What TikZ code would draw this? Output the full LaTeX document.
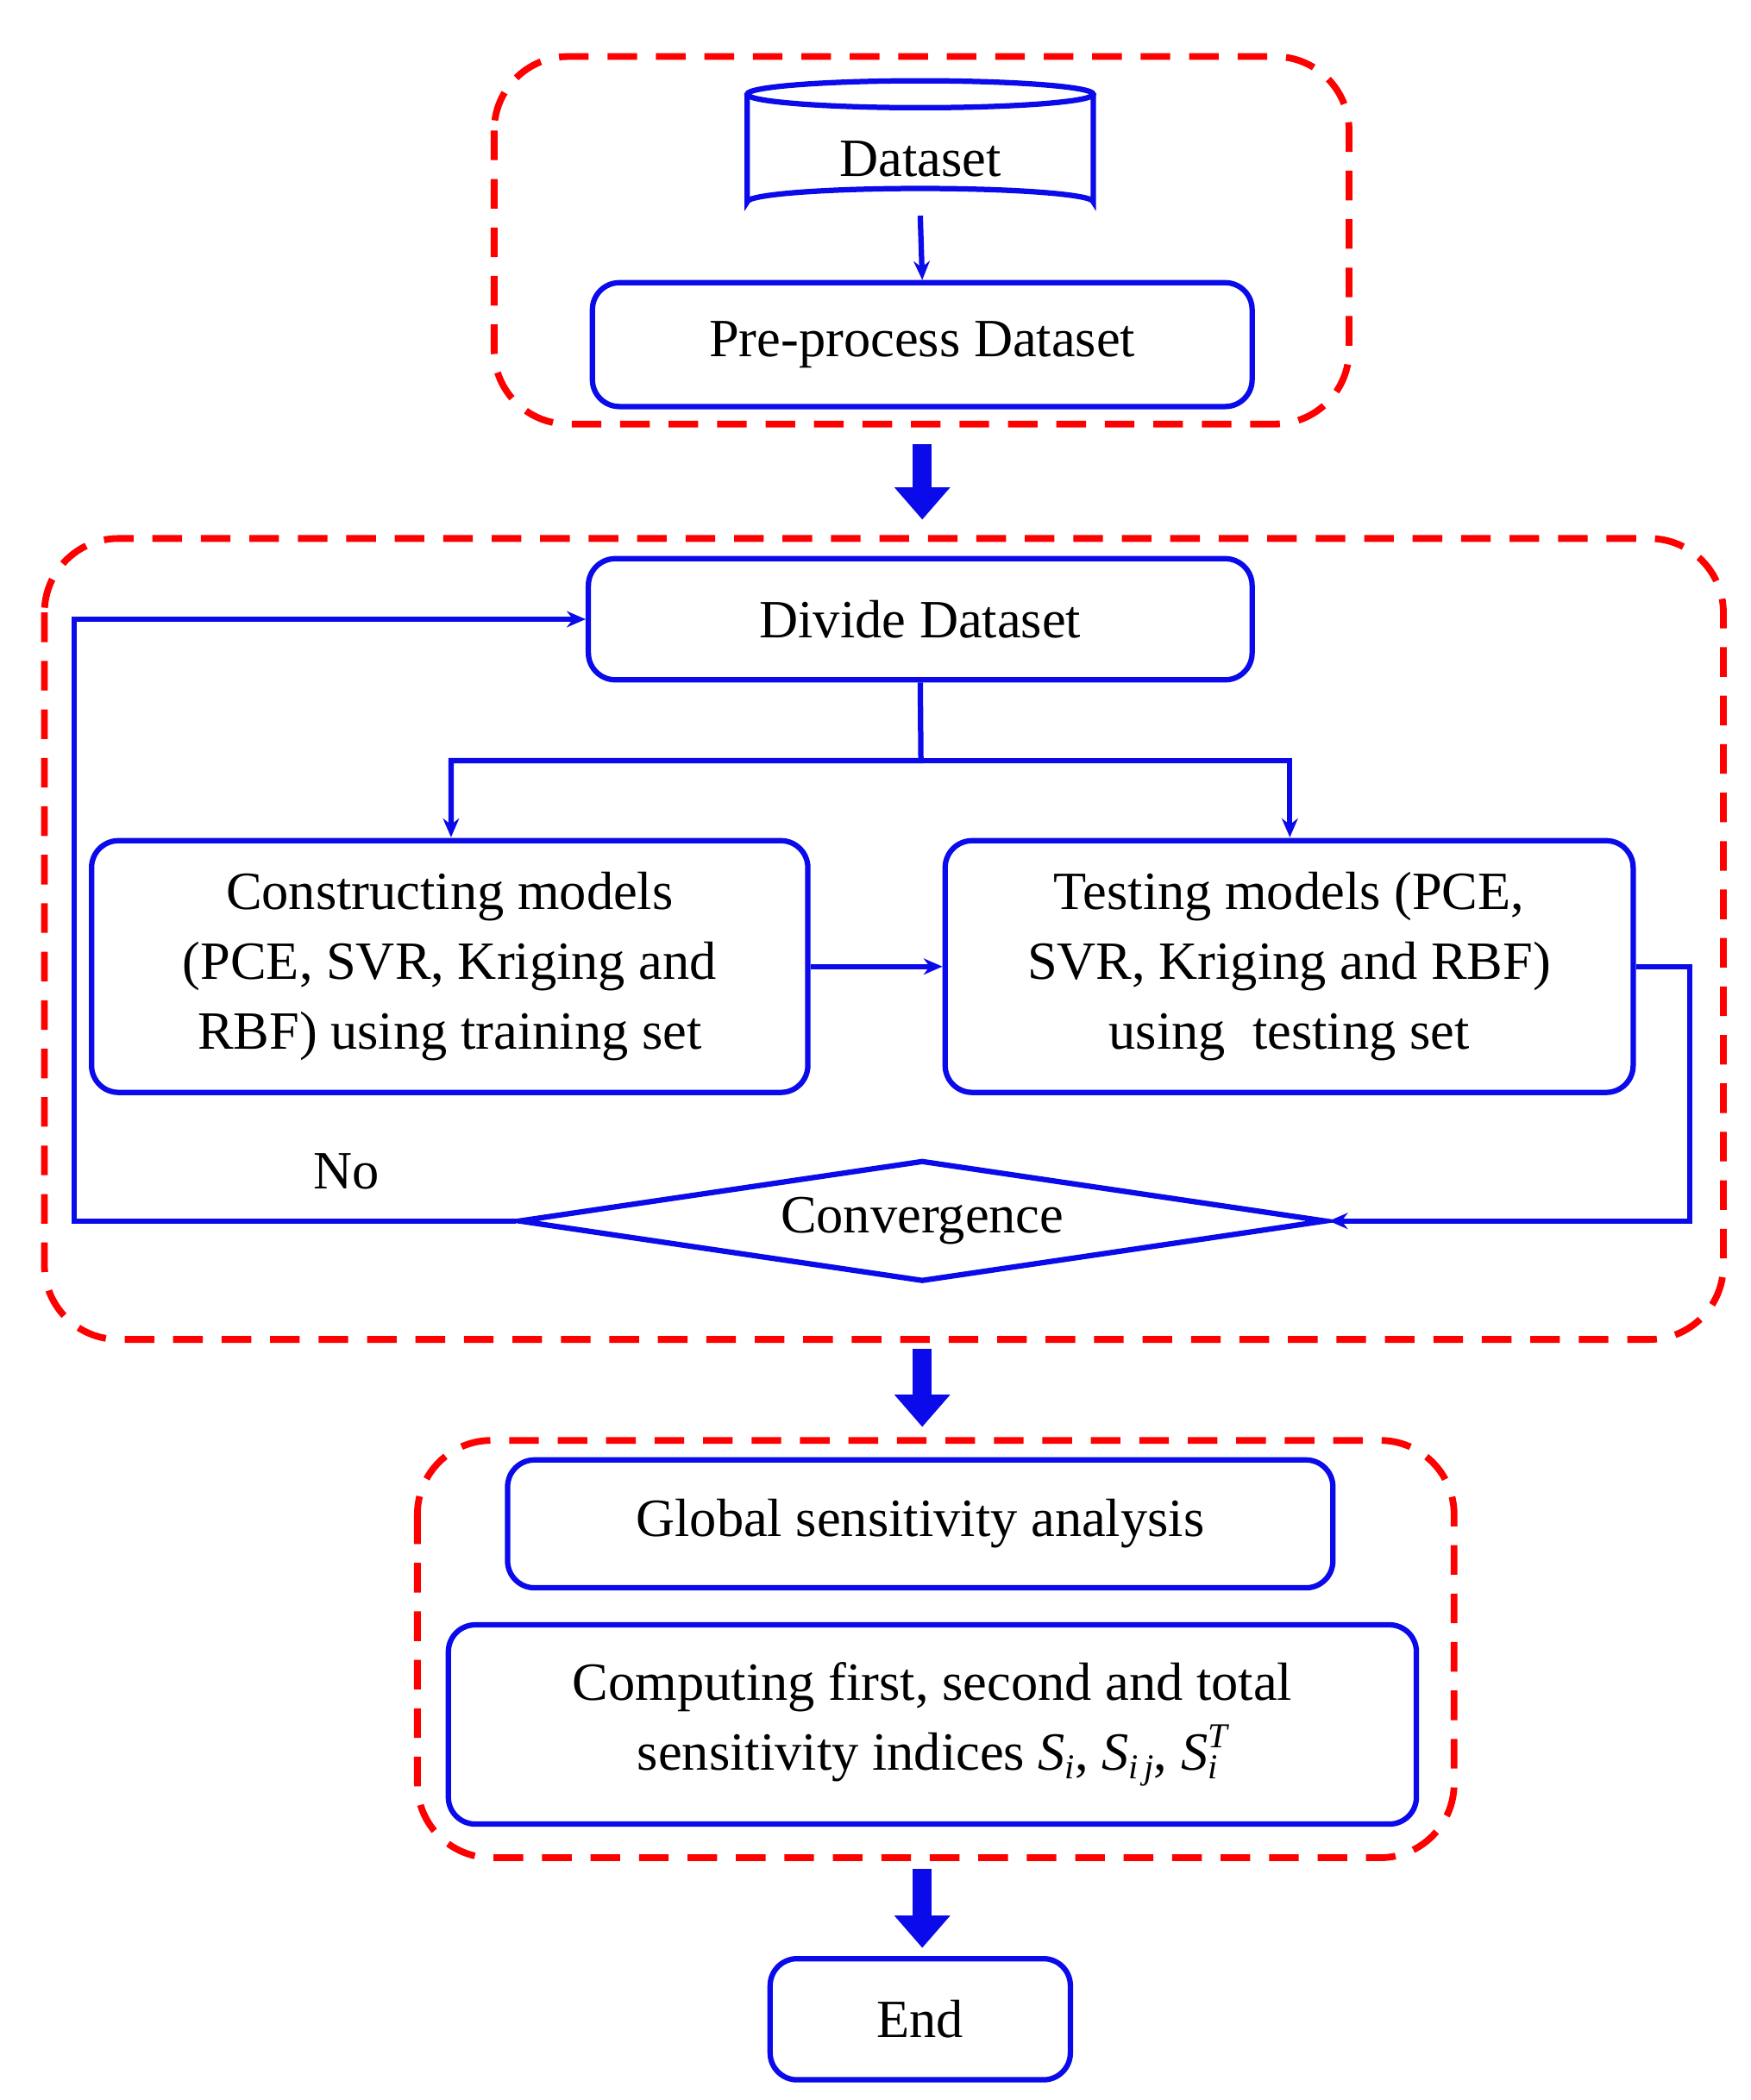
\documentclass[tikz,border=0pt]{standalone}
\usepackage{fontspec}
\setmainfont{Liberation Serif}
\usetikzlibrary{arrows.meta,shapes.geometric}
\definecolor{bl}{RGB}{10,10,235}
\newcommand{\mysub}[1]{\raisebox{-0.35ex}{\fontsize{26}{28}\selectfont\itshape #1}}
\newcommand{\mysup}[1]{\raisebox{0.9ex}{\fontsize{26}{28}\selectfont\itshape #1}}
\begin{document}
\begin{tikzpicture}[x=1pt,y=-1pt,
 box/.style={draw=bl,line width=4,rounded corners=20,align=center,inner sep=0,font=\fontsize{40}{52}\selectfont},
 grp/.style={draw=red,line width=5,dash pattern=on 22 off 14,rounded corners=55},
 ar/.style={draw=bl,line width=4,-{Stealth[length=14,width=12]}},
 big/.style={draw=bl,line width=14,-{Triangle[length=24,width=40]}}]
\useasboundingbox (0,0) rectangle (1300,1560);
\draw[grp] (367,42) rectangle (1002,315);
\draw[grp] (33,400) rectangle (1280,995);
\draw[grp] (310,1070) rectangle (1080,1380);
\draw[bl,line width=4] (555,70) -- (555,150) arc[start angle=180,end angle=360,x radius=128.5,y radius=10] -- (812,70);
\draw[bl,line width=4] (683.5,70) ellipse[x radius=128.5,y radius=10];
\node[minimum width=257,minimum height=100,inner sep=0] (ds) at (683.5,110) {};
\node[font=\fontsize{40}{52}\selectfont] at (683.5,118) {Dataset};
\node[box,minimum width=490,minimum height=92] (pre) at (685,256) {Pre-process Dataset};
\draw[ar] (ds.south) -- (pre.north);
\coordinate (a1) at (685,330); \coordinate (a1e) at (685,386);
\draw[big] (a1) -- (a1e);
\node[box,minimum width=493,minimum height=90] (div) at (683.5,460) {Divide Dataset};
\node[box,minimum width=532,minimum height=187] (con) at (334,718) {Constructing models\\(PCE, SVR, Kriging and\\RBF) using training set};
\node[box,minimum width=511,minimum height=187] (tst) at (957.5,718) {Testing models (PCE,\\SVR, Kriging and RBF)\\using\ \ testing set};
\node[diamond,draw=bl,line width=4,aspect=6.67,minimum width=600,minimum height=90,inner sep=0] (cv) at (685,907) {};
\node[font=\fontsize{40}{52}\selectfont] at (685,907) {Convergence};
\draw[ar] (div.south) -- (684,565) -| (335,622);
\draw[ar] (684,565) -| (958,622);
\draw[ar] (con.east) -- (tst.west);
\draw[ar] (tst.east) -- (1255,718) |- (cv.east);
\draw[ar] (cv.west) -- (55,907) |- (div.west);
\node[font=\fontsize{40}{52}\selectfont] at (257,870) {No};
\coordinate (a2) at (685,1002); \coordinate (a2e) at (685,1060);
\draw[big] (a2) -- (a2e);
\node[box,minimum width=613,minimum height=95] (gsa) at (683.5,1132) {Global sensitivity analysis};
\node[box,minimum width=719,minimum height=148] (cmp) at (692.5,1281) {Computing first, second and total\\sensitivity indices \textit{S}\mysub{i}, \textit{S}\mysub{i\,j}, \textit{S}\rlap{\mysub{i}}\mysup{T}};
\coordinate (a3) at (685,1388); \coordinate (a3e) at (685,1447);
\draw[big] (a3) -- (a3e);
\node[box,minimum width=223,minimum height=90] (end) at (683.5,1500) {End};
\end{tikzpicture}
\end{document}
